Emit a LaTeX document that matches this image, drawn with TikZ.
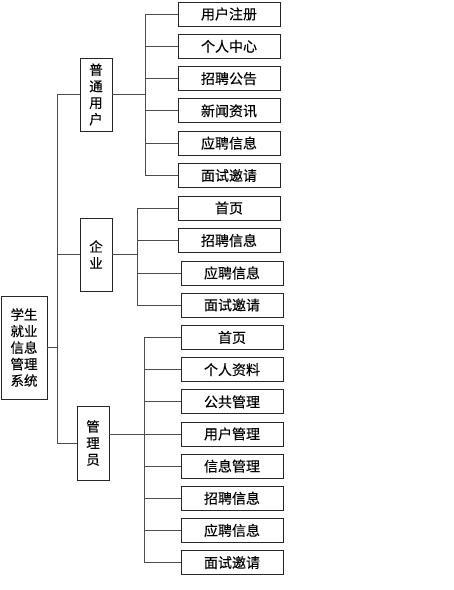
\documentclass[tikz,border=0pt]{standalone}
\usepackage{fontspec}
\setmainfont[BoldFont={Noto Sans CJK SC}, BoldFeatures={FakeBold=0.2}]{Noto Sans CJK SC}
\usetikzlibrary{calc}

\tikzset{
  box/.style={draw=black!85, line width=0.9pt, fill=white, inner sep=0pt, align=center,
    font=\bfseries\fontsize{13.5}{16.5}\selectfont},
  leaf/.style={box, minimum width=102pt, minimum height=24pt,
    font=\bfseries\fontsize{14}{16}\selectfont},
  group/.style={box, minimum width=32pt, minimum height=73pt},
  root/.style={box, minimum width=46pt, minimum height=103pt},
  link/.style={draw=black!70, line width=0.9pt}
}

\begin{document}
\begin{tikzpicture}[x=1pt, y=-1pt]
 \useasboundingbox (0,0) rectangle (454,590);

 % root and the three groups
 \node[root] (sys) at (24,347.5) {学生\\就业\\信息\\管理\\系统};
 \node[group] (user) at (96,94.5) {普\\通\\用\\户};
 \node[group] (corp) at (96,254.5) {企\\业};
 \node[group, minimum height=74pt] (admin) at (93,443) {管\\理\\员};

 % trunk
 \coordinate (trunk) at (57,347.5);
 \draw[link] (sys.east) -- (trunk);
 \draw[link] (user.west -| trunk) -- (admin.west -| trunk);
 \draw[link] (user.west -| trunk) -- (user.west);
 \draw[link] (corp.west -| trunk) -- (corp.west);
 \draw[link] (admin.west -| trunk) -- (admin.west);

 % normal users
 \foreach \name [count=\i from 0] in {用户注册,个人中心,招聘公告,新闻资讯,应聘信息,面试邀请}
   \node[leaf] (u\i) at (229,14+32.3*\i) {\name};
 \coordinate (ubus) at (145,94.5);
 \draw[link] (user.east) -- (ubus);
 \draw[link] (u0.west -| ubus) -- (u5.west -| ubus);
 \foreach \i in {0,...,5}
   \draw[link] (u\i.west -| ubus) -- (u\i.west);

 % companies
 \node[leaf] (c0) at (229,208) {首页};
 \node[leaf] (c1) at (229,240.5) {招聘信息};
 \node[leaf] (c2) at (232,273) {应聘信息};
 \node[leaf] (c3) at (232,305) {面试邀请};
 \coordinate (cbus) at (137,254.5);
 \draw[link] (corp.east) -- (cbus);
 \draw[link] (c0.west -| cbus) -- (c3.west -| cbus);
 \foreach \i in {0,...,3}
   \draw[link] (c\i.west -| cbus) -- (c\i.west);

 % administrators
 \foreach \name [count=\i from 0] in {首页,个人资料,公共管理,用户管理,信息管理,招聘信息,应聘信息,面试邀请}
   \node[leaf] (a\i) at (232,337.5+32.15*\i) {\name};
 \coordinate (abus) at (144,434);
 \draw[link] (admin.east |- abus) -- (abus);
 \draw[link] (a0.west -| abus) -- (a7.west -| abus);
 \foreach \i in {0,...,7}
   \draw[link] (a\i.west -| abus) -- (a\i.west);
\end{tikzpicture}
\end{document}
